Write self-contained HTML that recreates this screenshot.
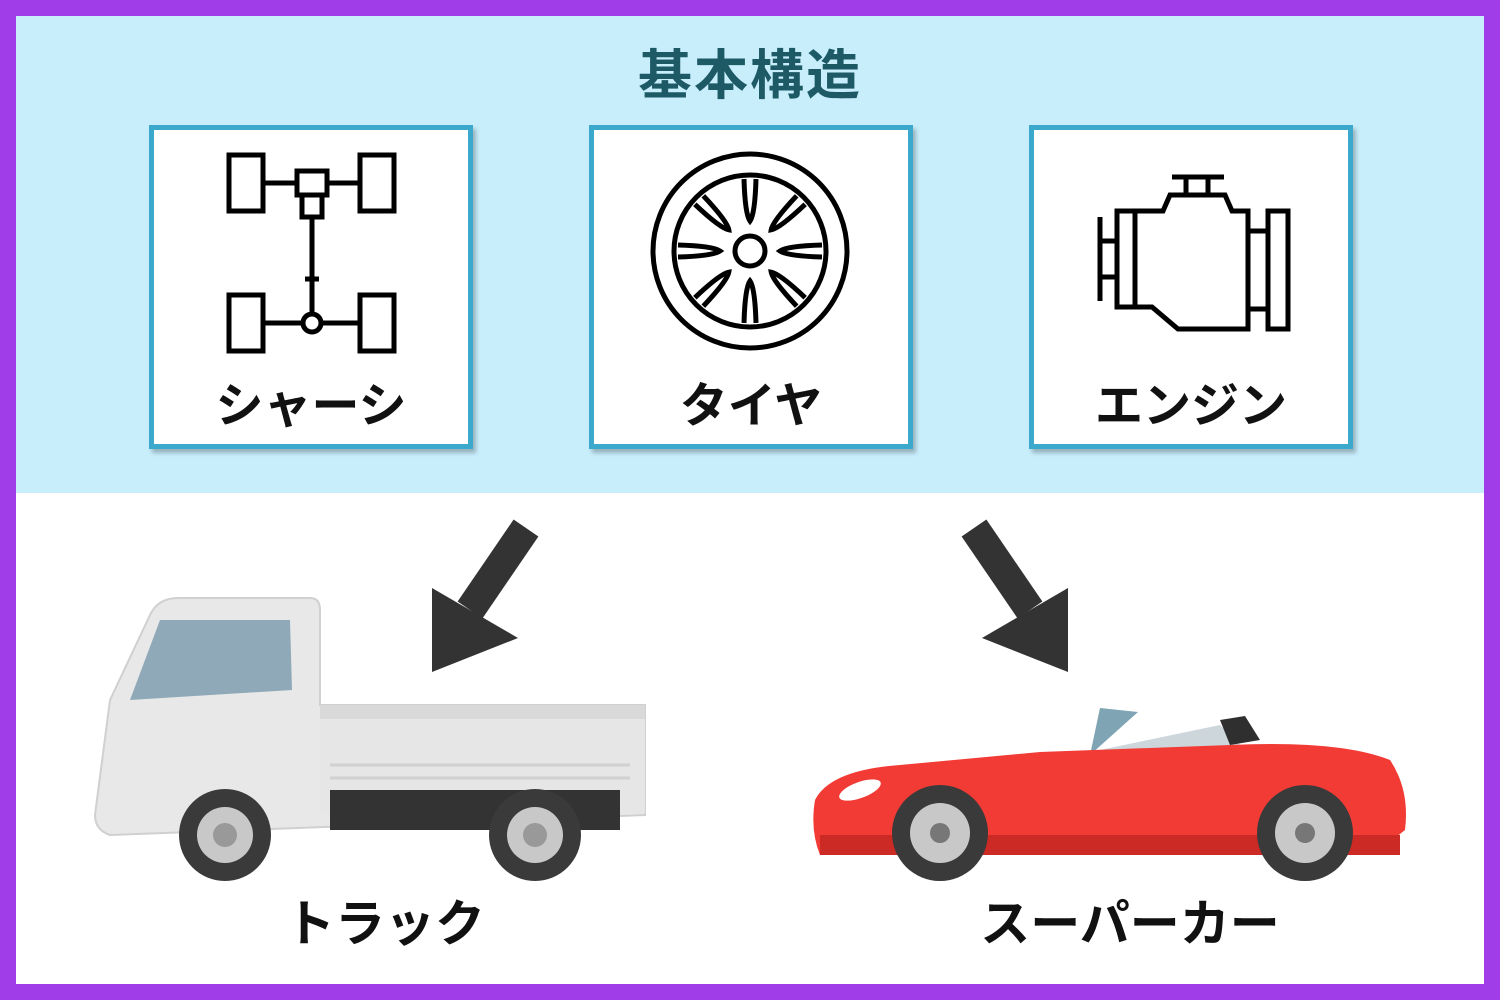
<!DOCTYPE html>
<html><head><meta charset="utf-8"><style>
html,body{margin:0;padding:0}
body{width:1500px;height:1000px;position:relative;overflow:hidden;background:#fff;font-family:"Liberation Sans","Noto Sans CJK JP",sans-serif}
.frame{position:absolute;left:0;top:0;width:1500px;height:1000px;box-sizing:border-box;border:16px solid #a03ce8}
.top{position:absolute;left:16px;top:16px;width:1468px;height:477px;background:#c8eefc}
.title{position:absolute;left:0;width:1500px;top:31px;text-align:center;font-size:54px;font-weight:bold;color:#1d5a66;letter-spacing:2px}
.box{position:absolute;top:125px;width:314px;height:314px;background:#fff;border:5px solid #3ba8cc;box-shadow:3px 4px 4px rgba(0,0,0,.25)}
.lbl{position:absolute;left:0;width:100%;top:236px;text-align:center;font-size:48px;font-weight:bold;color:#111}
.cap{position:absolute;font-size:50px;font-weight:bold;color:#111;text-align:center;top:884px}
svg{position:absolute}
</style></head><body>
<div class="top"></div>
<div class="title">基本構造</div>

<div class="box" style="left:149px">
<svg width="314" height="314" viewBox="154 131 314 314" style="left:0;top:0" fill="none" stroke="#000" stroke-width="5">
<rect x="229" y="156" width="34" height="56"/><rect x="360" y="156" width="34" height="56"/>
<rect x="229" y="296" width="34" height="56"/><rect x="360" y="296" width="34" height="56"/>
<line x1="263" y1="184" x2="297" y2="184"/><line x1="327" y1="184" x2="360" y2="184"/>
<rect x="297" y="172" width="30" height="24"/><rect x="302" y="196" width="20" height="22"/>
<line x1="312" y1="218" x2="312" y2="314"/><line x1="305" y1="280" x2="319" y2="280"/>
<line x1="263" y1="324" x2="302" y2="324"/><line x1="322" y1="324" x2="360" y2="324"/>
<circle cx="312" cy="324" r="9"/>
</svg>
<div class="lbl">シャーシ</div></div>

<div class="box" style="left:589px">
<svg width="314" height="314" viewBox="594 131 314 314" style="left:0;top:0" fill="none" stroke="#000" stroke-width="5">
<circle cx="750" cy="252" r="97"/><circle cx="750" cy="252" r="76"/><circle cx="750" cy="252" r="15"/>
<g id="sp"><path d="M744 180 Q745 215 750 222 Q755 215 756 180"/></g>
<use href="#sp" transform="rotate(45 750 252)"/><use href="#sp" transform="rotate(90 750 252)"/><use href="#sp" transform="rotate(135 750 252)"/>
<use href="#sp" transform="rotate(180 750 252)"/><use href="#sp" transform="rotate(225 750 252)"/><use href="#sp" transform="rotate(270 750 252)"/><use href="#sp" transform="rotate(315 750 252)"/>
</svg>
<div class="lbl">タイヤ</div></div>

<div class="box" style="left:1029px">
<svg width="314" height="314" viewBox="1034 131 314 314" style="left:0;top:0" fill="none" stroke="#000" stroke-width="5">
<line x1="1172" y1="178" x2="1224" y2="178"/><rect x="1186" y="178" width="22" height="18"/>
<path d="M1163 212 L1170 196 L1225 196 L1232 212 L1248 212 L1248 330 L1178 330 L1152 308 L1117 308 L1117 212 Z"/>
<line x1="1135" y1="212" x2="1135" y2="308"/><line x1="1100" y1="218" x2="1100" y2="302"/>
<line x1="1100" y1="242" x2="1117" y2="242"/><line x1="1100" y1="278" x2="1117" y2="278"/>
<rect x="1268" y="212" width="20" height="118"/><line x1="1248" y1="232" x2="1268" y2="232"/><line x1="1248" y1="310" x2="1268" y2="310"/>
</svg>
<div class="lbl">エンジン</div></div>

<svg width="1500" height="1000" style="left:0;top:0">
<line x1="526" y1="528" x2="470" y2="610" stroke="#333" stroke-width="30"/>
<polygon points="432,588 518,638 432,672" fill="#333"/>
<line x1="974" y1="528" x2="1030" y2="610" stroke="#333" stroke-width="30"/>
<polygon points="1068,588 982,638 1068,672" fill="#333"/>
<!-- truck -->
<path d="M110 700 L150 615 Q158 598 178 598 L310 598 Q320 598 320 610 L320 705 L645 705 L645 815 L110 835 Q95 830 95 815 Z" fill="#e8e8e8" stroke="#d0d0d0" stroke-width="2"/>
<path d="M160 620 L290 620 L292 690 L130 700 Z" fill="#8fa9b8"/>
<rect x="320" y="718" width="325" height="95" fill="#e6e6e6"/>
<rect x="320" y="705" width="325" height="14" fill="#d9d9d9"/>
<line x1="330" y1="765" x2="630" y2="765" stroke="#d0d0d0" stroke-width="3"/>
<line x1="330" y1="778" x2="630" y2="778" stroke="#d0d0d0" stroke-width="3"/>
<rect x="330" y="790" width="290" height="40" fill="#333"/>
<circle cx="225" cy="835" r="46" fill="#3a3a3a"/><circle cx="225" cy="835" r="28" fill="#c8c8c8"/><circle cx="225" cy="835" r="12" fill="#999"/>
<circle cx="535" cy="835" r="46" fill="#3a3a3a"/><circle cx="535" cy="835" r="28" fill="#c8c8c8"/><circle cx="535" cy="835" r="12" fill="#999"/>
<!-- car -->
<path d="M1100 708 L1138 712 L1090 755 Z" fill="#7fa4b4"/>
<path d="M1100 750 L1220 725 L1240 745 Z" fill="#ccd6db"/>
<path d="M1220 720 L1245 716 L1260 740 L1230 745 Z" fill="#2f2f2f"/>
<path d="M815 800 Q830 770 900 765 L1040 752 L1230 745 Q1340 740 1390 760 Q1410 790 1405 830 L1380 850 L820 855 Q810 830 815 800 Z" fill="#f23b35"/>
<rect x="820" y="835" width="580" height="20" fill="#cc2a25"/>
<ellipse cx="860" cy="790" rx="22" ry="8" fill="#fff" transform="rotate(-20 860 790)"/>
<circle cx="940" cy="833" r="48" fill="#3a3a3a"/><circle cx="940" cy="833" r="30" fill="#c8c8c8"/><circle cx="940" cy="833" r="10" fill="#777"/>
<circle cx="1305" cy="833" r="48" fill="#3a3a3a"/><circle cx="1305" cy="833" r="30" fill="#c8c8c8"/><circle cx="1305" cy="833" r="10" fill="#777"/>
</svg>
<div class="cap" style="left:235px;width:300px">トラック</div>
<div class="cap" style="left:940px;width:380px">スーパーカー</div>
<div class="frame"></div>
</body></html>
